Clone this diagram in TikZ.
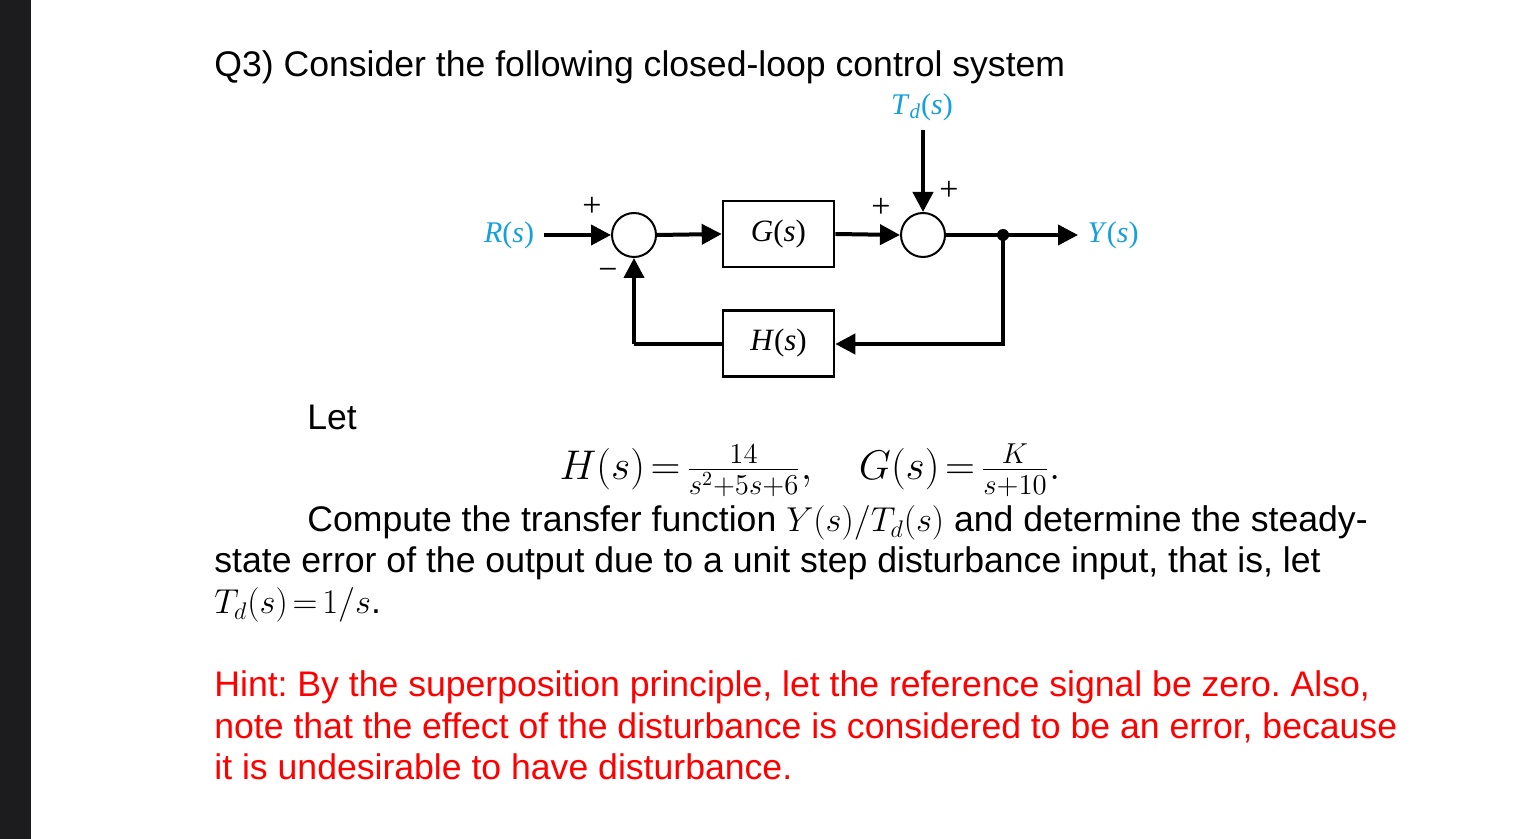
\documentclass[tikz,border=0pt]{standalone}
\usepackage[no-math]{fontspec}
\setmainfont{Liberation Sans}
\newfontfamily\tnr{Liberation Serif}
\usetikzlibrary{arrows.meta}
\definecolor{sigblue}{RGB}{20,160,220}
\definecolor{hintred}{RGB}{255,0,0}
\definecolor{barblack}{RGB}{28,28,30}
\frenchspacing
\begin{document}
\thickmuskip=2.5mu
\begin{tikzpicture}[x=0.5pt,y=-0.5pt,
  txt/.style={anchor=base west,inner sep=0pt,font=\fontsize{17.8}{20}\selectfont},
  hint/.style={txt,text=hintred},
  blk/.style={draw,line width=1.3pt,minimum width=55.5pt,minimum height=33pt,inner sep=0pt,font=\tnr\fontsize{15.5}{18}\selectfont},
  sum/.style={draw,circle,line width=1pt,minimum size=22pt,inner sep=0pt},
  sig/.style={inner sep=0pt,text=sigblue,font=\tnr\fontsize{15}{17}\selectfont},
  sgn/.style={inner sep=0pt,font=\tnr\fontsize{17}{18}\selectfont},
  conn/.style={line width=2pt,-{Triangle[length=10pt,width=10pt]}},
  wire/.style={line width=2pt}
]
\useasboundingbox (0,0) rectangle (1538,839);
\fill[white] (0,0) rectangle (1538,839);
\fill[barblack] (0,0) rectangle (31,839);

% text
\node[txt] (title) at (214,77) {Q3) Consider the following closed-loop control system};
\node[txt] (let) at (307,430) {Let};
\node[anchor=base,inner sep=0pt,font=\fontsize{20}{22}\selectfont] (eq) at (810,480)
  {$H(s)=\frac{14}{s^2+5s+6},\hspace{20pt}G(s)=\frac{K}{s+10}.$};
\node[txt] (l1) at (307,532) {Compute the transfer function {\fontsize{18.5}{20}\selectfont$Y(s)/T_d(s)$} and determine the steady-};
\node[txt] (l2) at (214,573) {state error of the output due to a unit step disturbance input, that is, let};
\node[txt] (l3) at (214,614) {{\fontsize{18.5}{20}\selectfont$T_d(s)=1/s$}.};
\node[hint] (h1) at (214,697) {Hint: By the superposition principle, let the reference signal be zero. Also,};
\node[hint] (h2) at (214,738) {note that the effect of the disturbance is considered to be an error, because};
\node[hint] (h3) at (214,779) {it is undesirable to have disturbance.};

% diagram
\node[sig] (R) at (509,235) {\textit{R}(\textit{s})};
\node[sig] (Y) at (1113,235) {\textit{Y}(\textit{s})};
\node[sig] (Td) at (922,107) {\textit{T}\textsubscript{\textit{d}}(\textit{s})};
\node[sum] (s1) at (634,235) {};
\node[sum] (s2) at (923,235) {};
\node[blk] (G) at (778.5,234) {\textit{G}(\textit{s})};
\node[blk] (H) at (778.5,343.5) {\textit{H}(\textit{s})};
\coordinate (rin) at (544,235);
\coordinate (dot) at (1003,235);
\coordinate (yout) at (1078,235);
\coordinate (tin) at (923,130);
\coordinate (fbr) at (1003,344);
\coordinate (fbl) at (634,344);
\fill (dot) circle (3pt);

\draw[conn] (rin) -- (s1.west);
\draw[conn] (s1.east) -- (G.west);
\draw[conn] (G.east) -- (s2.west);
\draw[wire] (s2.east) -- (dot);
\draw[conn] (dot) -- (yout);
\draw[conn] (tin) -- (s2.north);
\draw[conn] (dot) -- (fbr) -- (H.east |- fbr);
\draw[wire] (H.west |- fbl) -- (fbl);
\draw[conn] (fbl) -- (s1.south);

\node[sgn] (p1) at (592,207) {+};
\node[sgn] (m1) at (608,274) {\textminus};
\node[sgn] (p2) at (881,208) {+};
\node[sgn] (p3) at (949,191) {+};
\end{tikzpicture}
\end{document}
